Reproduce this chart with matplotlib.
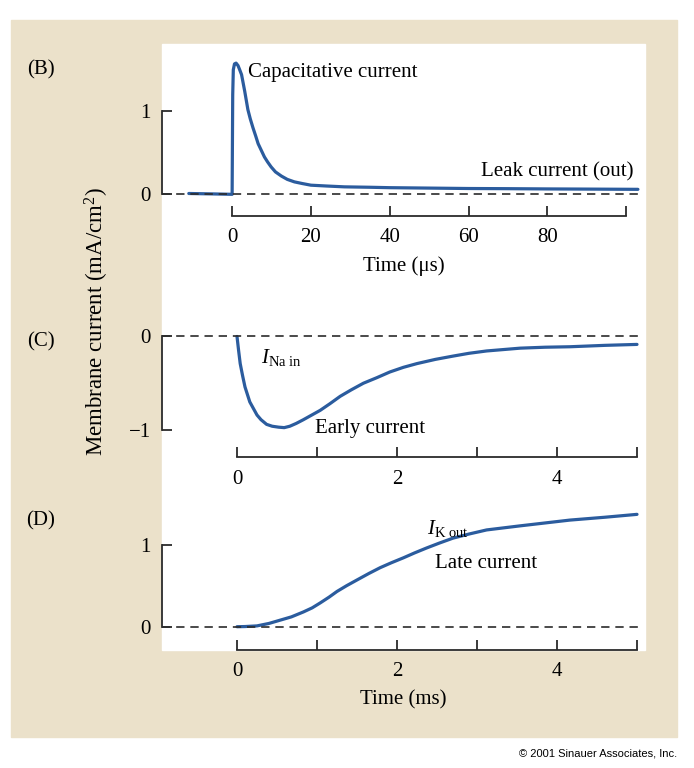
import numpy as np
import matplotlib.pyplot as plt
from matplotlib.patches import Rectangle

plt.rcParams['font.family'] = 'Liberation Serif'
plt.rcParams['mathtext.fontset'] = 'custom'
plt.rcParams['mathtext.rm'] = 'Liberation Serif'
plt.rcParams['mathtext.it'] = 'Liberation Serif:italic'

# (B) capacitative + leak current, time in microseconds
t_cap = [-11, -5, 0, 0.15, 0.3, 0.6, 1.0, 1.5, 2.0, 2.4, 2.8, 3.2, 3.6, 4.0,
         4.6, 5.3, 6.0, 6.6, 7.4, 8.2, 9.0, 9.9, 11.0, 12.5, 14.0, 15.8, 17.8,
         20, 24, 28.5, 35, 40, 50, 60, 70, 80, 90, 103]
i_cap = [0.01, 0.005, 0.0, 1.2, 1.50, 1.57, 1.58, 1.55, 1.49, 1.44, 1.34, 1.24,
         1.13, 1.02, 0.91, 0.80, 0.70, 0.61, 0.53, 0.45, 0.39, 0.33, 0.27, 0.22,
         0.18, 0.15, 0.13, 0.11, 0.10, 0.09, 0.085, 0.08, 0.075, 0.07, 0.068,
         0.065, 0.063, 0.06]

# (C) early inward Na current, time in ms
t_na = [0, 0.02, 0.04, 0.07, 0.1, 0.16, 0.25, 0.3, 0.37, 0.44, 0.52, 0.59,
        0.66, 0.74, 0.83, 1.04, 1.16, 1.29, 1.43, 1.58, 1.75, 1.91, 2.08, 2.25,
        2.48, 2.70, 2.9, 3.12, 3.33, 3.54, 3.85, 4.16, 4.6, 5.0]
i_na = [0, -0.15, -0.29, -0.42, -0.54, -0.70, -0.84, -0.89, -0.94, -0.96,
        -0.97, -0.975, -0.96, -0.93, -0.89, -0.79, -0.72, -0.64, -0.57, -0.50,
        -0.44, -0.38, -0.33, -0.29, -0.245, -0.21, -0.18, -0.155, -0.14, -0.125,
        -0.115, -0.11, -0.095, -0.085]

# (D) late outward K current, time in ms
t_k = [0, 0.1, 0.25, 0.4, 0.54, 0.68, 0.83, 0.94, 1.04, 1.15, 1.25, 1.37,
       1.50, 1.65, 1.79, 1.93, 2.08, 2.22, 2.37, 2.53, 2.70, 2.9, 3.12, 3.33,
       3.54, 3.85, 4.16, 4.6, 5.0]
i_k = [0, 0.002, 0.01, 0.04, 0.08, 0.12, 0.18, 0.23, 0.29, 0.36, 0.43, 0.50,
       0.57, 0.65, 0.72, 0.78, 0.84, 0.90, 0.96, 1.02, 1.08, 1.13, 1.18, 1.205,
       1.23, 1.265, 1.30, 1.335, 1.37]

W, H = 694, 768
BLUE = '#2b5c9e'
DARK = '#2b2b2b'
FS = 15


def px_axes(fig, x0, y0, x1, y1):
    # axes placed by pixel box (top-left origin)
    return fig.add_axes([x0 / W, 1 - y1 / H, (x1 - x0) / W, (y1 - y0) / H])


fig = plt.figure(figsize=(W / 100, H / 100), dpi=100)
fig.add_artist(Rectangle((11 / W, 1 - 737 / H), 666 / W, 717 / H,
                         transform=fig.transFigure, color='#ebe1ca', zorder=-10))
fig.add_artist(Rectangle((162 / W, 1 - 650 / H), 483 / W, 606 / H,
                         transform=fig.transFigure, color='white', zorder=-9))


def style(ax, ybounds, yticks, xbounds, xticks, xlabels):
    ax.patch.set_visible(False)
    for s in ['top', 'right']:
        ax.spines[s].set_visible(False)
    for s in ['left', 'bottom']:
        ax.spines[s].set_color(DARK)
        ax.spines[s].set_linewidth(1.3)
    ax.spines['left'].set_bounds(*ybounds)
    ax.spines['bottom'].set_bounds(*xbounds)
    ax.set_yticks(yticks)
    ax.set_yticklabels([str(v).replace('-', '\u2212') for v in yticks])
    ax.set_xticks(xticks)
    ax.set_xticklabels(xlabels)
    ax.tick_params(direction='in', length=7, width=1.3, color=DARK,
                   labelsize=FS, pad=8)
    ax.tick_params(axis='x', pad=9)


line_kw = dict(color=BLUE, lw=2.3, solid_joinstyle='round', solid_capstyle='round')
dash_kw = dict(xmax=0.99, color=DARK, lw=1.2, ls=(0, (5, 3.5)))

# panel B
axB = px_axes(fig, 162, 44, 645, 216)
axB.plot(t_cap, i_cap, **line_kw)
axB.axhline(0, **dash_kw)
axB.set_xlim(-17.8, 104.8)
axB.set_ylim(-0.261, 1.81)
style(axB, (0, 1), [0, 1], (0, 100), [0, 20, 40, 60, 80, 100],
      ['0', '20', '40', '60', '80', ''])
axB.set_xlabel('Time (\u03bcs)', fontsize=FS, labelpad=6)
axB.text(4, 1.47, 'Capacitative current', fontsize=FS, va='center')
axB.text(102, 0.27, 'Leak current (out)', fontsize=FS, va='center', ha='right')

# panel C
axC = px_axes(fig, 162, 300, 645, 457)
axC.plot(t_na, i_na, **line_kw)
axC.axhline(0, **dash_kw)
axC.set_xlim(-0.9375, 5.1)
axC.set_ylim(-1.289, 0.39)
style(axC, (-1, 0), [-1, 0], (0, 5), [0, 1, 2, 3, 4, 5],
      ['0', '', '2', '', '4', ''])
axC.text(0.3, -0.22, r'$I_{\mathrm{Na\ in}}$', fontsize=FS, va='center')
axC.text(0.98, -0.98, 'Early current', fontsize=FS, va='center')

# panel D
axD = px_axes(fig, 162, 490, 645, 650)
axD.plot(t_k, i_k, **line_kw)
axD.axhline(0, **dash_kw)
axD.set_xlim(-0.9375, 5.1)
axD.set_ylim(-0.284, 1.667)
style(axD, (0, 1), [0, 1], (0, 5), [0, 1, 2, 3, 4, 5],
      ['0', '', '2', '', '4', ''])
axD.set_xlabel('Time (ms)', fontsize=FS, labelpad=6)
axD.text(2.37, 1.2, r'$I_{\mathrm{K\ out}}$', fontsize=FS, va='center')
axD.text(2.48, 0.77, 'Late current', fontsize=FS, va='center')

# panel letters and shared y label
for lbl, y in [('(B)', 70), ('(C)', 342), ('(D)', 521)]:
    fig.text(41 / W, 1 - y / H, lbl, fontsize=FS, ha='center', va='center')
fig.text(97 / W, 1 - 322 / H, 'Membrane current (mA/cm$^2$)', fontsize=16.5,
         rotation=90, ha='center', va='center')
fig.text(677 / W, 1 - 753 / H, '\u00a9 2001 Sinauer Associates, Inc.',
         fontsize=8, family='Liberation Sans', ha='right', va='center')

fig.savefig('out.png', dpi=100)
